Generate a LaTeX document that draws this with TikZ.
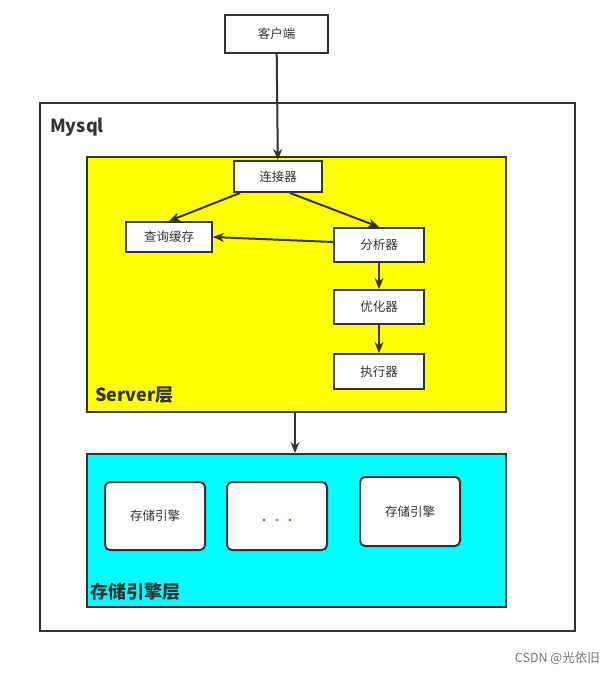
\documentclass[tikz,border=0pt]{standalone}
\usepackage{fontspec}
\setmainfont{Noto Sans CJK SC}
\usetikzlibrary{arrows.meta}
\definecolor{cy}{RGB}{0,255,255}
\definecolor{ye}{RGB}{255,255,0}
\definecolor{ln}{RGB}{51,51,51}
\begin{document}
\begin{tikzpicture}[x=1pt,y=-1pt,
 box/.style={draw=ln,line width=2pt,fill=white,inner sep=0pt,font=\fontsize{12.5}{14}\selectfont,text=ln},
 rbox/.style={box,rounded corners=5pt},
 arr/.style={-{Stealth[length=11pt,width=9pt]},line width=2pt,draw=ln},
 big/.style={font=\bfseries\fontsize{18}{20}\selectfont,text=ln,anchor=west,inner sep=0pt}]
\useasboundingbox (0,0) rectangle (614,674);
\node[draw=ln,line width=2pt,minimum width=535pt,minimum height=528pt,anchor=north west,inner sep=0pt] (mysql) at (39,102) {};
\node[big] (ml) at (50,127) {Mysql};
\node[draw=ln,line width=1.6pt,fill=ye,minimum width=419pt,minimum height=255pt,anchor=north west,inner sep=0pt] (server) at (86,156) {};
\node[big] (sl) at (95,395) {Server层};
\node[draw=ln,line width=1.6pt,fill=cy,minimum width=419pt,minimum height=153pt,anchor=north west,inner sep=0pt] (store) at (86,453) {};
\node[big] (stl) at (90,592) {存储引擎层};
\node[box,minimum width=103pt,minimum height=38pt] (client) at (276.5,34) {客户端};
\node[box,minimum width=88pt,minimum height=31pt] (conn) at (278,176.5) {连接器};
\node[box,minimum width=86pt,minimum height=30pt] (cache) at (169,237) {查询缓存};
\node[box,minimum width=90pt,minimum height=34pt] (ana) at (379,245) {分析器};
\node[box,minimum width=90pt,minimum height=34pt] (opt) at (379,307) {优化器};
\node[box,minimum width=90pt,minimum height=35pt] (exe) at (379,371.5) {执行器};
\node[rbox,minimum width=100pt,minimum height=68pt] (e1) at (155,516) {存储引擎};
\node[rbox,minimum width=100pt,minimum height=68pt] (e2) at (277,516) {};
\node[rbox,minimum width=100pt,minimum height=69pt] (e3) at (410,511.5) {存储引擎};
\foreach \dx/\c in {-13/orange!70!black,0/blue!60,13/orange!70!black}
  \fill[\c] ([xshift=\dx pt,yshift=-4pt]e2.center) circle (1.4pt);
\coordinate (s1) at (295,411);
\coordinate (s2) at (295,453);
\draw[arr] (client) -- (conn);
\draw[arr] ([xshift=-38pt]conn.south) -- (cache.north);
\draw[arr] ([xshift=12pt]conn.south) -- (ana.north);
\draw[arr] ([yshift=3pt]ana.west) -- (cache.east);
\draw[arr] (ana) -- (opt);
\draw[arr] (opt) -- (exe);
\draw[arr] (s1) -- (s2);
\node[anchor=east,font=\fontsize{12.5}{14}\selectfont,text=black!55,inner sep=0pt] (csdn) at (600,658) {CSDN @光依旧};
\end{tikzpicture}
\end{document}
